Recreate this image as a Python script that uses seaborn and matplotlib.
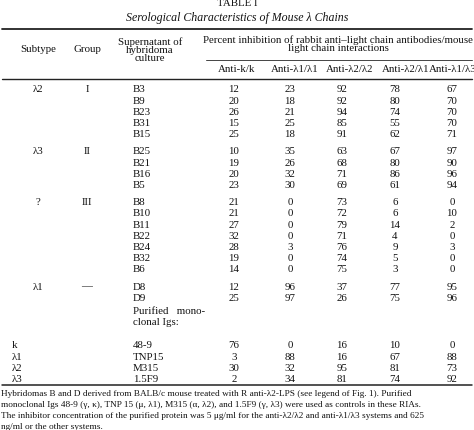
import matplotlib
matplotlib.use("Agg")
import matplotlib.pyplot as plt
import seaborn as sns

# --- Data ---
subtypes = ["λ2", "λ3", "?", "λ1"]
groups = ["I", "II", "III", "—"]
cultures = [
    ["B3", "B9", "B23", "B31", "B15"],
    ["B25", "B21", "B16", "B5"],
    ["B8", "B10", "B11", "B22", "B24", "B32", "B6"],
    ["D8", "D9"],
]
anti_k = [[12, 20, 26, 15, 25], [10, 19, 20, 23], [21, 21, 27, 32, 28, 19, 14], [12, 25]]
anti_l1l1 = [[23, 18, 21, 25, 18], [35, 26, 32, 30], [0, 0, 0, 0, 3, 0, 0], [96, 97]]
anti_l2l2 = [[92, 92, 94, 85, 91], [63, 68, 71, 69], [73, 72, 79, 71, 76, 74, 75], [37, 26]]
anti_l2l1 = [[78, 80, 74, 55, 62], [67, 80, 86, 61], [6, 6, 14, 4, 9, 5, 3], [77, 75]]
anti_l1l3 = [[67, 70, 70, 70, 71], [97, 90, 96, 94], [0, 10, 2, 0, 3, 0, 0], [95, 96]]

control_subtypes = ["k", "λ1", "λ2", "λ3"]
control_names = ["48-9", "TNP15", "M315", "1.5F9"]
control_values = [
    [76, 0, 16, 10, 0],
    [3, 88, 16, 67, 88],
    [30, 32, 95, 81, 73],
    [2, 34, 81, 74, 92],
]
col_headers = ["Anti-k/k", "Anti-λ1/λ1", "Anti-λ2/λ2", "Anti-λ2/λ1", "Anti-λ1/λ3"]
footnote = [
    "Hybridomas B and D derived from BALB/c mouse treated with R anti-λ2-LPS (see legend of Fig. 1). Purified",
    "monoclonal Igs 48-9 (γ, κ), TNP 15 (μ, λ1), M315 (α, λ2), and 1.5F9 (γ, λ3) were used as controls in these RIAs.",
    "The inhibitor concentration of the purified protein was 5 μg/ml for the anti-λ2/λ2 and anti-λ1/λ3 systems and 625",
    "ng/ml or the other systems.",
]

# --- Layout (pixel coords) ---
W, H = 474, 431
STEP = 11.2
GAP = 17.2
NUM_X = [234, 290, 342, 395, 452]
HEAD_X = [237, 295, 350, 406, 453]

sns.set_theme(style="white")
plt.rcParams["font.family"] = ["Liberation Serif", "DejaVu Serif"]

fig = plt.figure(figsize=(W / 100, H / 100), dpi=100)
ax = fig.add_axes([0, 0, 1, 1])
ax.set_xlim(0, W)
ax.set_ylim(H, 0)
ax.axis("off")

fs = 7.8
txt = dict(fontsize=fs, va="center", color="#111")

ax.text(W / 2, 4, "TABLE I", ha="center", **txt)
ax.text(W / 2, 18, "Serological Characteristics of Mouse λ Chains", ha="center",
        style="italic", fontsize=8.6, va="center", color="#111")
ax.plot([2, W - 2], [30, 30], color="#222", lw=1.3)
ax.text(38, 50, "Subtype", ha="center", **txt)
ax.text(87, 50, "Group", ha="center", **txt)
ax.text(150, 50, "Supernatant of\nhybridoma\nculture", ha="center", linespacing=0.9, **txt)
ax.text(338, 44, "Percent inhibition of rabbit anti–light chain antibodies/mouse\nlight chain interactions",
        ha="center", linespacing=0.9, **txt)
ax.plot([206, W - 2], [61, 61], color="#444", lw=0.7)
for x, h in zip(HEAD_X, col_headers):
    ax.text(x, 70, h, ha="center", **txt)
ax.plot([2, W - 2], [80, 80], color="#222", lw=1.0)

series = [anti_k, anti_l1l1, anti_l2l2, anti_l2l1, anti_l1l3]
y = 90
for g in range(len(subtypes)):
    ax.text(38, y, subtypes[g], ha="center", **txt)
    ax.text(87, y, groups[g], ha="center", **txt)
    for r, name in enumerate(cultures[g]):
        ax.text(133, y, name, ha="left", **txt)
        for c in range(5):
            ax.text(NUM_X[c], y, str(series[c][g][r]), ha="center", **txt)
        y += STEP
    y += GAP - STEP

ax.text(133, 317, "Purified   mono-\nclonal Igs:", ha="left", va="center", fontsize=fs,
        linespacing=1.2, color="#111")
y = 346
for sub, name, vals in zip(control_subtypes, control_names, control_values):
    ax.text(12, y, sub, ha="left", **txt)
    ax.text(133, y, name, ha="left", **txt)
    for c in range(5):
        ax.text(NUM_X[c], y, str(vals[c]), ha="center", **txt)
    y += STEP
ax.plot([2, W - 2], [386, 386], color="#222", lw=1.1)

for i, line in enumerate(footnote):
    ax.text(1, 394 + i * 11, line, ha="left", fontsize=6.7, va="center", color="#111")

fig.savefig("out.png", dpi=100)
